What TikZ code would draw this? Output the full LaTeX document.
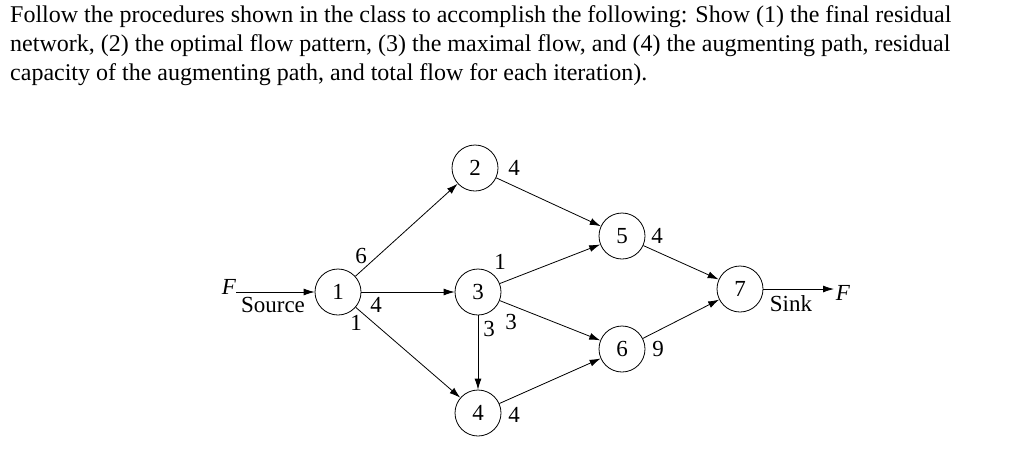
\documentclass[tikz,border=0pt]{standalone}
\usepackage{fontspec}
\setmainfont{Liberation Serif}
\newfontfamily\tnr{Liberation Serif}
\usetikzlibrary{arrows.meta}
\begin{document}
\begin{tikzpicture}[x=1pt,y=-1pt,
  vtx/.style={circle,draw,line width=0.8pt,minimum size=46pt,inner sep=0pt,font=\tnr\fontsize{23}{23}\selectfont},
  lab/.style={font=\tnr\fontsize{23}{23}\selectfont,inner sep=0pt},
  arc/.style={-{Latex[length=11pt,width=7pt]},line width=0.8pt}]
\useasboundingbox (0,0) rectangle (1024,448);
\node[anchor=north west,align=left,inner sep=0pt,font=\tnr\fontsize{24}{29}\selectfont] (title) at (10,5)
 {Follow the procedures shown in the class to accomplish the following: Show (1) the final residual\\ network, (2) the optimal flow pattern, (3) the maximal flow, and (4) the augmenting path, residual\\ capacity of the augmenting path, and total flow for each iteration).};
\node[vtx] (n1) at (338,292) {1};
\node[vtx] (n2) at (475,168) {2};
\node[vtx] (n3) at (478,292) {3};
\node[vtx] (n4) at (478,413) {4};
\node[vtx] (n5) at (622,236) {5};
\node[vtx] (n6) at (622,349) {6};
\node[vtx] (n7) at (740,289) {7};
\node[lab,font=\tnr\itshape\fontsize{23}{23}\selectfont] (fin) at (229,287) {F};
\node[lab,font=\tnr\itshape\fontsize{23}{23}\selectfont] (fout) at (843,293) {F};
\coordinate (fs) at (236,292);
\coordinate (fe) at (834,289);
\draw[arc] (fs) -- (n1);
\draw[arc] (n7) -- (fe);
\draw[arc] (n1) -- (n2);
\draw[arc] (n1) -- (n3);
\draw[arc] (n1) -- (n4);
\draw[arc] (n2) -- (n5);
\draw[arc] (n3) -- (n5);
\draw[arc] (n3) -- (n6);
\draw[arc] (n3) -- (n4);
\draw[arc] (n4) -- (n6);
\draw[arc] (n5) -- (n7);
\draw[arc] (n6) -- (n7);
\node[lab] (src) at (273,305) {Source};
\node[lab] (snk) at (791,304) {Sink};
\node[lab] (l6) at (361,256) {6};
\node[lab] (l4a) at (376,305) {4};
\node[lab] (l1a) at (356,323) {1};
\node[lab] (l1b) at (500,262) {1};
\node[lab] (l3a) at (489,329) {3};
\node[lab] (l3b) at (511,322) {3};
\node[lab] (l2) at (514,168) {4};
\node[lab] (l5) at (657,236) {4};
\node[lab] (l69) at (658,349) {9};
\node[lab] (l44) at (514,415) {4};
\end{tikzpicture}
\end{document}
